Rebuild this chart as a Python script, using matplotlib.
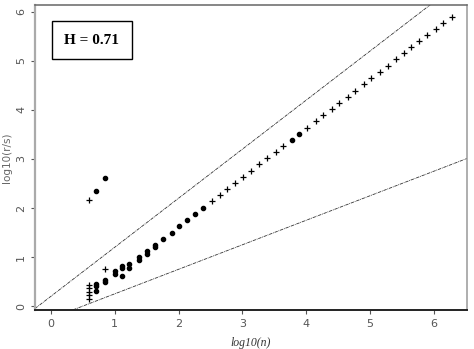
import numpy as np
import matplotlib.pyplot as plt

# R/S points, log10(n) vs log10(r/s)
plus_x = [0.60, 0.60, 0.60, 0.60, 0.60, 0.60, 0.85,
          2.52, 2.65, 2.76, 2.89, 3.01, 3.14, 3.26, 3.39, 3.52, 3.64,
          4.02, 4.15, 4.27, 4.40, 4.52, 4.65, 4.77, 4.90, 5.02, 5.15,
          5.28, 5.40, 5.53, 5.65, 5.77, 5.90, 6.03, 6.15, 6.28]
plus_y = [2.16, 0.15, 0.22, 0.29, 0.36, 0.43, 0.76,
          2.14, 2.27, 2.38, 2.52, 2.64, 2.76, 2.90, 3.01, 3.14, 3.27,
          3.64, 3.78, 3.90, 4.02, 4.15, 4.27, 4.39, 4.52, 4.65, 4.78,
          4.90, 5.03, 5.16, 5.28, 5.41, 5.53, 5.66, 5.78, 5.90]

dot_x = [0.70, 0.85, 0.70, 0.70, 0.70, 0.85, 0.85, 1.00, 1.00,
         1.12, 1.12, 1.12, 1.23, 1.23, 1.38, 1.38, 1.51, 1.51,
         1.63, 1.63, 1.76, 1.89, 2.00, 2.13, 2.26, 2.39, 3.77, 3.89]
dot_y = [2.35, 2.61, 0.45, 0.40, 0.31, 0.53, 0.50, 0.72, 0.65,
         0.82, 0.77, 0.62, 0.86, 0.77, 1.01, 0.94, 1.13, 1.07,
         1.24, 1.21, 1.37, 1.50, 1.63, 1.755, 1.88, 2.01, 3.39, 3.51]

# reference lines (slope, intercept)
upper_line = (1.0, 0.2)
lower_line = (0.5, -0.25)

h_text = 'H = 0.71'

fig = plt.figure(figsize=(4.74, 3.49), dpi=100)
ax = fig.add_axes([35/474, 1-310/349, (467-35)/474, (310-5)/349])

xlim = (-0.25, 6.52)
ylim = (-0.08, 6.14)
xx = np.array(xlim)
for slope, icpt in (upper_line, lower_line):
    ax.plot(xx, slope*xx + icpt, color='#333333', lw=0.6,
            linestyle=(0, (4, 1, 1, 1)))

ax.plot(plus_x, plus_y, linestyle='none', marker='+', color='black',
        markersize=4.5, markeredgewidth=0.9)
ax.plot(dot_x, dot_y, linestyle='none', marker='o', color='black',
        markersize=3.0)

ax.set_xlim(*xlim)
ax.set_ylim(*ylim)
ax.set_xticks(range(0, 7))
ax.set_yticks(range(0, 7))
ax.tick_params(axis='both', labelsize=8, length=3, labelcolor='#555555',
               color='#555555')
for lab in ax.get_yticklabels():
    lab.set_rotation(90)
    lab.set_va('center')

ax.spines['left'].set_color('#aaaaaa')
ax.spines['left'].set_linewidth(1.6)
ax.spines['bottom'].set_color('#222222')
ax.spines['bottom'].set_linewidth(1.4)
ax.spines['top'].set_color('#666666')
ax.spines['top'].set_linewidth(1.1)
ax.spines['right'].set_color('#999999')
ax.spines['right'].set_linewidth(1.1)

ax.set_xlabel('log10(n)', fontsize=8.5, family='Liberation Serif',
              style='italic', color='#333333', labelpad=6)
ax.set_ylabel('log10(r/s)', fontsize=7.5, color='#666666', labelpad=3)

ax.text(92/474, 1-40/349, h_text, transform=fig.transFigure,
        ha='center', va='center', fontsize=11, fontweight='bold',
        family='Liberation Serif',
        bbox=dict(boxstyle='square,pad=0.85', facecolor='white',
                  edgecolor='black', linewidth=1.0))

fig.savefig('out.png', dpi=100)
